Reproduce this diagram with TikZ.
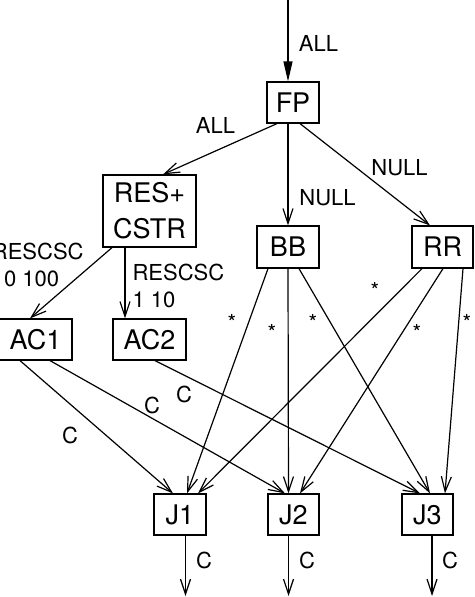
\documentclass[tikz,border=0pt]{standalone}
\usepackage{fontspec}
\setmainfont{TeX Gyre Heros}
\usetikzlibrary{arrows.meta}

\begin{document}
\begin{tikzpicture}[x=1pt, y=-1pt, line width=1.2pt,
  box/.style = {draw, inner sep=0pt, font=\fontsize{27}{36}\selectfont, align=center},
  lbl/.style = {inner sep=0pt, font=\fontsize{22}{27.5}\selectfont},
  tip/.style = {-{Straight Barb[length=15pt, width=10pt]}},
  filltip/.style = {-{Triangle[length=20pt, width=9pt]}}]
\useasboundingbox (0,0) rectangle (474,597);

\node[box, minimum width=52pt, minimum height=41pt] (FP)  at (293,102.5) {FP};
\node[box, minimum width=93pt, minimum height=72pt] (RES) at (149.5,211) {RES+\\CSTR};
\node[box, minimum width=62pt, minimum height=42pt] (BB)  at (288,247) {BB};
\node[box, minimum width=61pt, minimum height=42pt] (RR)  at (442.5,247) {RR};
\node[box, minimum width=73pt, minimum height=41pt] (AC1) at (35.5,339.5) {AC1};
\node[box, minimum width=73pt, minimum height=41pt] (AC2) at (149.5,339.5) {AC2};
\node[box, minimum width=52pt, minimum height=41pt] (J1)  at (180,514.5) {J1};
\node[box, minimum width=51pt, minimum height=41pt] (J2)  at (293.5,514.5) {J2};
\node[box, minimum width=51pt, minimum height=41pt] (J3)  at (427.5,514.5) {J3};

\coordinate (in) at (288,0);
\draw[filltip] (in) -- ([xshift=-5pt]FP.north);
\node[lbl] (allin) at (318.5,43.5) {ALL};

\draw[tip] ([xshift=-16pt]FP.south) -- ([xshift=13.5pt]RES.north);
\draw[tip] ([xshift=-5pt]FP.south) -- (BB.north);
\draw[tip] ([xshift=7pt]FP.south) -- ([xshift=-12.5pt]RR.north);
\node[lbl] (allres) at (215.5,125) {ALL};
\node[lbl] (nullbb) at (327.5,197.5) {NULL};
\node[lbl] (nullrr) at (399.5,167.5) {NULL};

\draw[tip] ([xshift=-37.5pt]RES.south) -- ([xshift=-5.5pt]AC1.north);
\draw[tip] ([xshift=-24.5pt]RES.south) -- ([xshift=-24.5pt]AC2.north);
\node[lbl, anchor=north west, align=left] (rac1) at (-8.7,242) {RESCSC\\10 100};
\node[lbl, anchor=north west, align=left] (rac2) at (132,263) {RESCSC\\1 10};

\draw[tip] ([xshift=-20pt]BB.south) -- ([xshift=7pt]J1.north);
\draw[tip] (BB.south) -- ([xshift=-5pt]J2.north);
\draw[tip] ([xshift=11pt]BB.south) -- ([xshift=2.5pt]J3.north);
\draw[tip] ([xshift=-20.5pt]RR.south) -- ([xshift=18pt]J1.north);
\draw[tip] ([xshift=0.5pt]RR.south) -- ([xshift=6.5pt]J2.north);
\draw[tip] ([xshift=20.5pt]RR.south) -- ([xshift=17.5pt]J3.north);
\foreach \x/\y [count=\i] in {232/317, 272/327, 313/317, 375/285, 417/327, 467/317}
  \node[lbl] (star\i) at (\x,\y+5) {*};

\draw[tip] ([xshift=-15.5pt]AC1.south) -- ([xshift=-7pt]J1.north);
\draw[tip] ([xshift=14.5pt]AC1.south) -- ([xshift=-8.5pt]J2.north);
\draw[tip] ([xshift=5.5pt]AC2.south) -- ([xshift=-7.5pt]J3.north);
\node[lbl] (cj1) at (70,435) {C};
\node[lbl] (cj2) at (152,405) {C};
\node[lbl] (cj3) at (184,394) {C};

\foreach \j/\x/\c in {1/185.5/204, 2/288.5/307, 3/432/450}{
  \coordinate (out\j) at (\x,596);
  \draw[tip] (J\j.south -| out\j) -- (out\j);
  \node[lbl] (cout\j) at (\c,560) {C};
}
\end{tikzpicture}
\end{document}
